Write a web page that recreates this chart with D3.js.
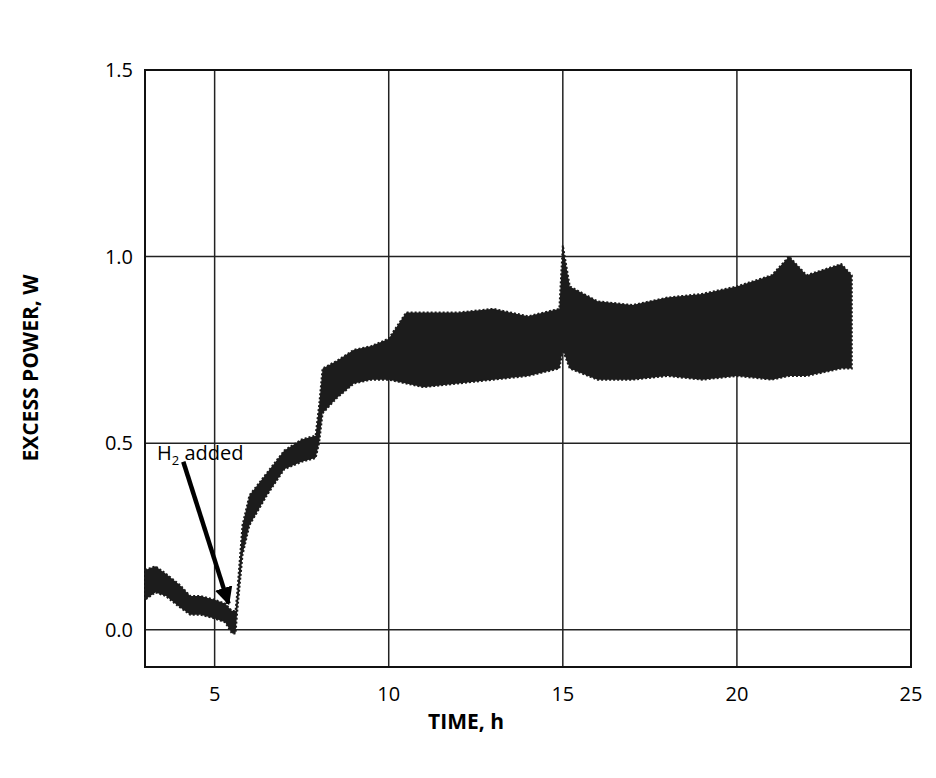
<!DOCTYPE html>
<html><head><meta charset="utf-8">
<script src="https://cdn.jsdelivr.net/npm/d3@7"></script>
<style>body{margin:0;background:#fff}text{font-family:"Open Sans",sans-serif}</style>
</head><body>
<svg id="c" width="936" height="778"></svg>
<script>
// envelope of the scattered readings (time h, low W, high W)
var times = [3,3.3,3.6,4.0,4.3,4.6,5.0,5.3,5.5,5.6,5.65,5.8,6.0,6.5,7.0,7.5,7.9,8.0,8.1,8.5,9.0,9.5,10,10.5,11,12,13,14,14.9,15.0,15.2,16,17,18,19,20,21,21.5,22,23,23.3];
var lows  = [0.08,0.10,0.09,0.06,0.04,0.04,0.03,0.02,-0.01,-0.01,0.05,0.20,0.28,0.36,0.43,0.45,0.46,0.50,0.58,0.62,0.66,0.67,0.67,0.66,0.65,0.66,0.67,0.68,0.70,0.75,0.70,0.67,0.67,0.68,0.67,0.68,0.67,0.68,0.68,0.70,0.70];
var highs = [0.16,0.17,0.15,0.12,0.09,0.09,0.08,0.07,0.05,0.05,0.10,0.28,0.36,0.42,0.48,0.51,0.52,0.60,0.70,0.72,0.75,0.76,0.78,0.85,0.85,0.85,0.86,0.84,0.86,1.03,0.92,0.88,0.87,0.89,0.90,0.92,0.95,1.00,0.95,0.98,0.95];
var xTicks = [5,10,15,20,25];
var yTicks = [0.0,0.5,1.0,1.5];

var svg = d3.select("#c");
var x = d3.scaleLinear().domain([3,25]).range([145,911]);
var y = d3.scaleLinear().domain([-0.1,1.5]).range([667,70]);

// grid
svg.selectAll(".gx").data(xTicks.slice(0,4)).enter().append("line")
    .attr("x1",function(d){return x(d);}).attr("x2",function(d){return x(d);})
    .attr("y1",y(1.5)).attr("y2",y(-0.1)).attr("stroke","#222").attr("stroke-width",1.5);
svg.selectAll(".gy").data(yTicks.slice(0,3)).enter().append("line")
    .attr("x1",x(3)).attr("x2",x(25))
    .attr("y1",function(d){return y(d);}).attr("y2",function(d){return y(d);})
    .attr("stroke","#222").attr("stroke-width",1.5);
svg.append("rect").attr("x",x(3)).attr("y",y(1.5)).attr("width",x(25)-x(3)).attr("height",y(-0.1)-y(1.5))
    .attr("fill","none").attr("stroke","#111").attr("stroke-width",2);

// data band
var pts = times.map(function(t,i){return {t:t,lo:lows[i],hi:highs[i]};});
svg.append("path").datum(pts)
    .attr("d", d3.area().x(function(d){return x(d.t);}).y0(function(d){return y(d.lo);}).y1(function(d){return y(d.hi);}))
    .attr("fill","#1c1c1c").attr("stroke","#1c1c1c").attr("stroke-width",2).attr("stroke-dasharray","2,2");

// tick labels
svg.selectAll(".xl").data(xTicks).enter().append("text")
    .attr("x",function(d){return x(d);}).attr("y",701).attr("text-anchor","middle")
    .attr("font-size",20).text(function(d){return d;});
svg.selectAll(".yl").data(yTicks).enter().append("text")
    .attr("x",133).attr("y",function(d){return y(d)+7;}).attr("text-anchor","end")
    .attr("font-size",20).text(function(d){return d.toFixed(1);});

svg.append("text").attr("x",466).attr("y",729).attr("text-anchor","middle")
    .attr("font-size",21).attr("font-weight","bold").text("TIME, h");
svg.append("text").attr("transform","translate(38,368) rotate(-90)").attr("text-anchor","middle")
    .attr("font-size",21).attr("font-weight","bold").text("EXCESS POWER, W");

// annotation
svg.append("defs").append("marker").attr("id","ah").attr("viewBox","0 0 10 10")
    .attr("refX",9).attr("refY",5).attr("markerWidth",4).attr("markerHeight",4).attr("orient","auto")
    .append("path").attr("d","M0,0L10,5L0,10z").attr("fill","#000");
svg.append("line").attr("x1",x(4.1)).attr("y1",y(0.45)).attr("x2",x(5.4)).attr("y2",y(0.07))
    .attr("stroke","#000").attr("stroke-width",4.5).attr("marker-end","url(#ah)");
var t = svg.append("text").attr("x",157).attr("y",460).attr("font-size",20);
t.append("tspan").text("H");
t.append("tspan").attr("font-size",13).attr("dy",5).text("2");
t.append("tspan").attr("dy",-5).text(" added");
</script>
</body></html>
